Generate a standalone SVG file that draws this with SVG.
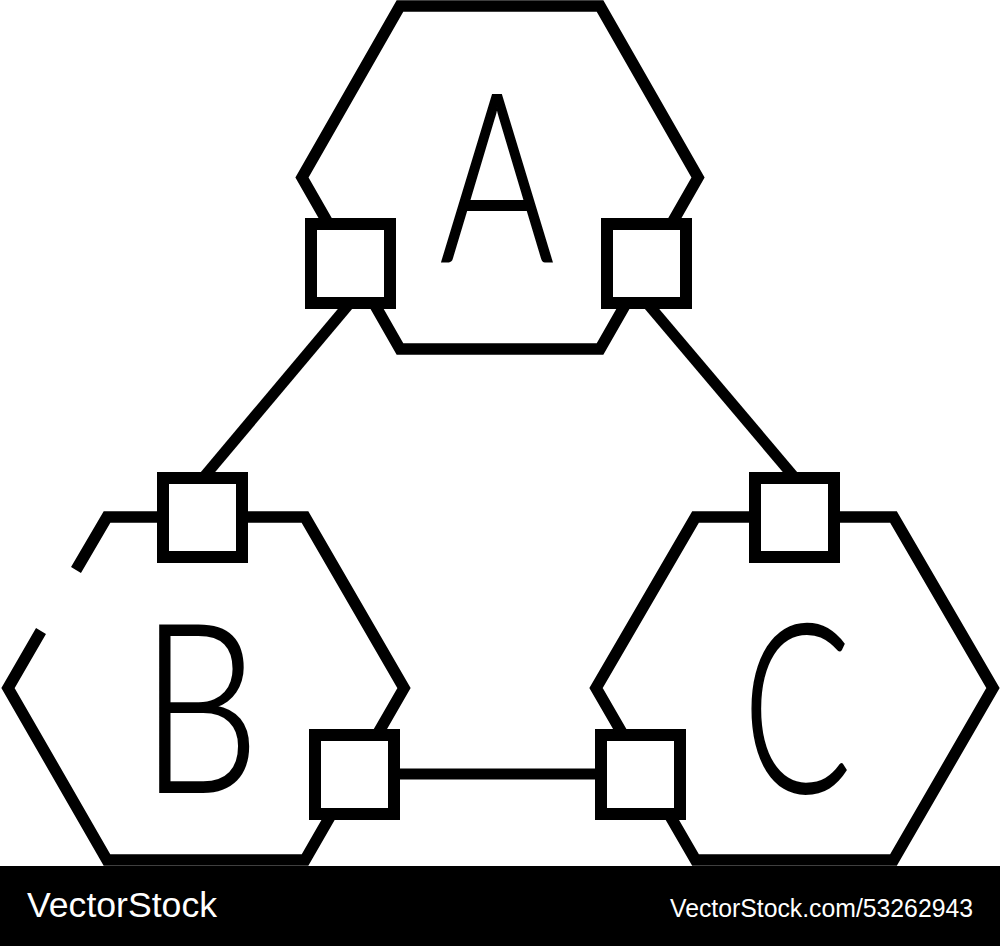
<svg xmlns="http://www.w3.org/2000/svg" width="1000" height="946" viewBox="0 0 1000 946">
<style>
.hex{fill:none;stroke:#000;stroke-width:11.5;stroke-linejoin:miter}
.port{fill:#fff;stroke:#000;stroke-width:12}
.wire{fill:none;stroke:#000;stroke-width:11}
.lbl{font-family:Lato,"Liberation Sans",sans-serif;font-weight:300;font-size:236px;fill:#000;stroke:#000;stroke-width:2;text-anchor:middle}
.wm{font-family:"Liberation Sans",Arial,sans-serif;fill:#fff}
</style>
<rect width="1000" height="946" fill="#fff"/>
<g id="connectors">
<line class="wire" x1="350" y1="303" x2="203" y2="478"/>
<line class="wire" x1="647" y1="303" x2="795" y2="478"/>
<line class="wire" x1="393" y1="774" x2="601" y2="774"/>
</g>
<g id="nodeA">
<polygon class="hex" points="400,6 600,6 698,177.5 600,349 400,349 302,177.5"/>
<text class="lbl" transform="translate(497,0) scale(0.74,1)" x="0" y="262">A</text>
<rect class="port" x="311" y="224" width="79" height="79"/>
<rect class="port" x="607" y="224" width="79" height="79"/>
</g>
<g id="nodeB">
<path class="hex" d="M76,570 L107,517 L305,517 L404,688 L305,860 L107,860 L8,688 L41,631"/>
<text class="lbl" transform="translate(200,0) scale(0.8,1)" x="0" y="792">B</text>
<rect class="port" x="163" y="478" width="79" height="79"/>
<rect class="port" x="315" y="735" width="79" height="79"/>
</g>
<g id="nodeC">
<polygon class="hex" points="695.5,517 893.5,517 993,688 893.5,860 695.5,860 596,688"/>
<text class="lbl" transform="translate(797,0) scale(0.68,1)" x="0" y="792">C</text>
<rect class="port" x="755" y="478" width="79" height="79"/>
<rect class="port" x="601" y="735" width="79" height="79"/>
</g>
<g id="watermark">
<rect x="0" y="866" width="1000" height="80" fill="#000"/>
<text class="wm" x="27" y="917" font-size="35" textLength="190" lengthAdjust="spacingAndGlyphs">VectorStock</text>
<text class="wm" x="670" y="917" font-size="25" textLength="303" lengthAdjust="spacingAndGlyphs">VectorStock.com/53262943</text>
</g>
</svg>
